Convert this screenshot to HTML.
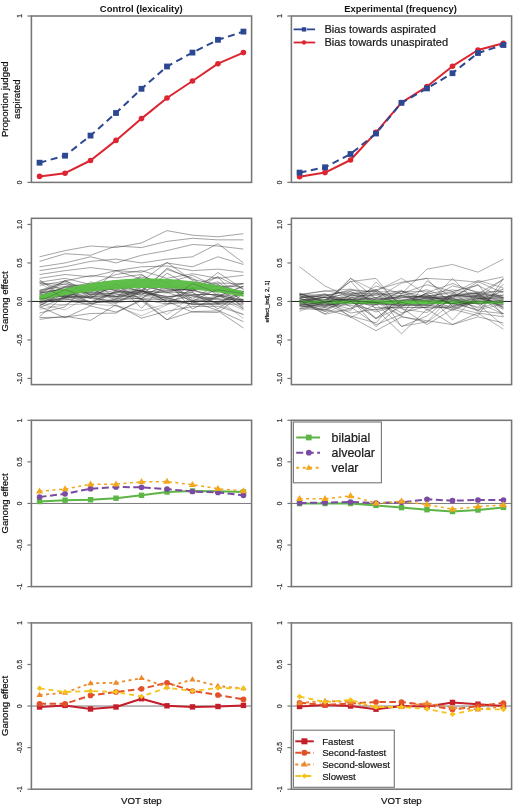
<!DOCTYPE html>
<html><head><meta charset="utf-8"><style>
html,body{margin:0;padding:0;background:#fff;}
svg{display:block;font-family:'Liberation Sans', Arial, sans-serif;}
</style></head><body>
<svg width="520" height="809" viewBox="0 0 520 809">
<rect width="520" height="809" fill="#fff"/>
<text x="141.30" y="11.80" font-size="9.5" text-anchor="middle" font-weight="bold" fill="#111">Control (lexicality)</text>
<text x="400.60" y="11.80" font-size="9.4" text-anchor="middle" font-weight="bold" fill="#111">Experimental (frequency)</text>
<text x="8.20" y="99.20" font-size="9.6" text-anchor="middle" font-weight="normal" fill="#111" stroke="#111" stroke-width="0.22" transform="rotate(-90 8.20 99.20)">Proportion judged</text>
<text x="20.20" y="99.20" font-size="9.6" text-anchor="middle" font-weight="normal" fill="#111" stroke="#111" stroke-width="0.22" transform="rotate(-90 20.20 99.20)">aspirated</text>
<text x="7.80" y="301.50" font-size="9.6" text-anchor="middle" font-weight="normal" fill="#111" stroke="#111" stroke-width="0.22" transform="rotate(-90 7.80 301.50)">Ganong effect</text>
<text x="268.60" y="301.50" font-size="5.9" text-anchor="middle" font-weight="normal" fill="#111" stroke="#111" stroke-width="0.22" transform="rotate(-90 268.60 301.50)">effect_ind[, 2, 1]</text>
<text x="7.80" y="503.50" font-size="9.6" text-anchor="middle" font-weight="normal" fill="#111" stroke="#111" stroke-width="0.22" transform="rotate(-90 7.80 503.50)">Ganong effect</text>
<text x="7.80" y="706.00" font-size="9.6" text-anchor="middle" font-weight="normal" fill="#111" stroke="#111" stroke-width="0.22" transform="rotate(-90 7.80 706.00)">Ganong effect</text>
<text x="141.30" y="804.10" font-size="9.7" text-anchor="middle" font-weight="normal" fill="#111" stroke="#111" stroke-width="0.22">VOT step</text>
<text x="401.30" y="804.10" font-size="9.7" text-anchor="middle" font-weight="normal" fill="#111" stroke="#111" stroke-width="0.22">VOT step</text>
<rect x="31.40" y="16.00" width="220.20" height="166.40" fill="none" stroke="#767676" stroke-width="1.55"/>
<line x1="27.40" y1="16.00" x2="31.40" y2="16.00" stroke="#767676" stroke-width="1.2"/>
<text x="22.20" y="16.00" transform="rotate(-90 22.20 16.00)" text-anchor="middle" font-size="6.6" fill="#333" stroke="#333" stroke-width="0.25">1</text>
<line x1="27.40" y1="182.40" x2="31.40" y2="182.40" stroke="#767676" stroke-width="1.2"/>
<text x="22.20" y="182.40" transform="rotate(-90 22.20 182.40)" text-anchor="middle" font-size="6.6" fill="#333" stroke="#333" stroke-width="0.25">0</text>
<rect x="291.40" y="16.00" width="220.20" height="166.40" fill="none" stroke="#767676" stroke-width="1.55"/>
<line x1="287.40" y1="16.00" x2="291.40" y2="16.00" stroke="#767676" stroke-width="1.2"/>
<text x="282.20" y="16.00" transform="rotate(-90 282.20 16.00)" text-anchor="middle" font-size="6.6" fill="#333" stroke="#333" stroke-width="0.25">1</text>
<line x1="287.40" y1="182.40" x2="291.40" y2="182.40" stroke="#767676" stroke-width="1.2"/>
<text x="282.20" y="182.40" transform="rotate(-90 282.20 182.40)" text-anchor="middle" font-size="6.6" fill="#333" stroke="#333" stroke-width="0.25">0</text>
<polyline points="39.56,162.70 65.04,155.70 90.53,135.60 116.01,113.00 141.50,88.80 166.99,66.50 192.47,52.60 217.96,39.80 243.44,31.60" fill="none" stroke="#2d4893" stroke-width="2.0" stroke-dasharray="7 4.5" stroke-linejoin="round" />
<rect x="36.65" y="159.79" width="5.82" height="5.82" fill="#2d4893"/>
<rect x="62.13" y="152.79" width="5.82" height="5.82" fill="#2d4893"/>
<rect x="87.62" y="132.69" width="5.82" height="5.82" fill="#2d4893"/>
<rect x="113.10" y="110.09" width="5.82" height="5.82" fill="#2d4893"/>
<rect x="138.59" y="85.89" width="5.82" height="5.82" fill="#2d4893"/>
<rect x="164.08" y="63.59" width="5.82" height="5.82" fill="#2d4893"/>
<rect x="189.56" y="49.69" width="5.82" height="5.82" fill="#2d4893"/>
<rect x="215.05" y="36.89" width="5.82" height="5.82" fill="#2d4893"/>
<rect x="240.53" y="28.69" width="5.82" height="5.82" fill="#2d4893"/>
<polyline points="39.56,176.40 65.04,173.20 90.53,160.50 116.01,140.40 141.50,118.60 166.99,98.00 192.47,81.00 217.96,63.70 243.44,52.60" fill="none" stroke="#dc2530" stroke-width="2.0" stroke-linejoin="round" />
<circle cx="39.56" cy="176.40" r="2.79" fill="#dc2530"/>
<circle cx="65.04" cy="173.20" r="2.79" fill="#dc2530"/>
<circle cx="90.53" cy="160.50" r="2.79" fill="#dc2530"/>
<circle cx="116.01" cy="140.40" r="2.79" fill="#dc2530"/>
<circle cx="141.50" cy="118.60" r="2.79" fill="#dc2530"/>
<circle cx="166.99" cy="98.00" r="2.79" fill="#dc2530"/>
<circle cx="192.47" cy="81.00" r="2.79" fill="#dc2530"/>
<circle cx="217.96" cy="63.70" r="2.79" fill="#dc2530"/>
<circle cx="243.44" cy="52.60" r="2.79" fill="#dc2530"/>
<polyline points="299.56,176.80 325.04,172.60 350.53,160.00 376.01,132.40 401.50,102.70 426.99,86.50 452.47,66.20 477.96,50.00 503.44,43.20" fill="none" stroke="#dc2530" stroke-width="2.0" stroke-linejoin="round" />
<circle cx="299.56" cy="176.80" r="2.79" fill="#dc2530"/>
<circle cx="325.04" cy="172.60" r="2.79" fill="#dc2530"/>
<circle cx="350.53" cy="160.00" r="2.79" fill="#dc2530"/>
<circle cx="376.01" cy="132.40" r="2.79" fill="#dc2530"/>
<circle cx="401.50" cy="102.70" r="2.79" fill="#dc2530"/>
<circle cx="426.99" cy="86.50" r="2.79" fill="#dc2530"/>
<circle cx="452.47" cy="66.20" r="2.79" fill="#dc2530"/>
<circle cx="477.96" cy="50.00" r="2.79" fill="#dc2530"/>
<circle cx="503.44" cy="43.20" r="2.79" fill="#dc2530"/>
<polyline points="299.56,172.60 325.04,167.30 350.53,154.00 376.01,133.50 401.50,102.80 426.99,88.40 452.47,73.20 477.96,53.00 503.44,45.00" fill="none" stroke="#2d4893" stroke-width="2.0" stroke-dasharray="7 4.5" stroke-linejoin="round" />
<rect x="296.65" y="169.69" width="5.82" height="5.82" fill="#2d4893"/>
<rect x="322.13" y="164.39" width="5.82" height="5.82" fill="#2d4893"/>
<rect x="347.62" y="151.09" width="5.82" height="5.82" fill="#2d4893"/>
<rect x="373.10" y="130.59" width="5.82" height="5.82" fill="#2d4893"/>
<rect x="398.59" y="99.89" width="5.82" height="5.82" fill="#2d4893"/>
<rect x="424.08" y="85.49" width="5.82" height="5.82" fill="#2d4893"/>
<rect x="449.56" y="70.29" width="5.82" height="5.82" fill="#2d4893"/>
<rect x="475.05" y="50.09" width="5.82" height="5.82" fill="#2d4893"/>
<rect x="500.53" y="42.09" width="5.82" height="5.82" fill="#2d4893"/>
<polyline points="293.60,29.40 315.20,29.40" fill="none" stroke="#2c4590" stroke-width="1.7" stroke-dasharray="8.5 4.5" stroke-linejoin="round" />
<rect x="301.84" y="27.24" width="4.32" height="4.32" fill="#2c4590"/>
<polyline points="293.60,42.50 315.20,42.50" fill="none" stroke="#d92431" stroke-width="1.8" stroke-linejoin="round" />
<circle cx="304.00" cy="42.50" r="2.16" fill="#d92431"/>
<text x="324.50" y="33.20" font-size="11.0" text-anchor="start" font-weight="normal" fill="#1a1a1a" stroke="#1a1a1a" stroke-width="0.22">Bias towards aspirated</text>
<text x="324.50" y="46.30" font-size="11.0" text-anchor="start" font-weight="normal" fill="#1a1a1a" stroke="#1a1a1a" stroke-width="0.22">Bias towards unaspirated</text>
<rect x="31.40" y="218.30" width="220.20" height="166.30" fill="none" stroke="#767676" stroke-width="1.55"/>
<line x1="27.40" y1="224.45" x2="31.40" y2="224.45" stroke="#767676" stroke-width="1.2"/>
<text x="22.20" y="224.45" transform="rotate(-90 22.20 224.45)" text-anchor="middle" font-size="6.6" fill="#333" stroke="#333" stroke-width="0.25">1.0</text>
<line x1="27.40" y1="262.95" x2="31.40" y2="262.95" stroke="#767676" stroke-width="1.2"/>
<text x="22.20" y="262.95" transform="rotate(-90 22.20 262.95)" text-anchor="middle" font-size="6.6" fill="#333" stroke="#333" stroke-width="0.25">0.5</text>
<line x1="27.40" y1="301.45" x2="31.40" y2="301.45" stroke="#767676" stroke-width="1.2"/>
<text x="22.20" y="301.45" transform="rotate(-90 22.20 301.45)" text-anchor="middle" font-size="6.6" fill="#333" stroke="#333" stroke-width="0.25">0.0</text>
<line x1="27.40" y1="339.95" x2="31.40" y2="339.95" stroke="#767676" stroke-width="1.2"/>
<text x="22.20" y="339.95" transform="rotate(-90 22.20 339.95)" text-anchor="middle" font-size="6.6" fill="#333" stroke="#333" stroke-width="0.25">-0.5</text>
<line x1="27.40" y1="378.45" x2="31.40" y2="378.45" stroke="#767676" stroke-width="1.2"/>
<text x="22.20" y="378.45" transform="rotate(-90 22.20 378.45)" text-anchor="middle" font-size="6.6" fill="#333" stroke="#333" stroke-width="0.25">-1.0</text>
<rect x="291.40" y="218.30" width="220.20" height="166.30" fill="none" stroke="#767676" stroke-width="1.55"/>
<line x1="287.40" y1="224.45" x2="291.40" y2="224.45" stroke="#767676" stroke-width="1.2"/>
<text x="282.20" y="224.45" transform="rotate(-90 282.20 224.45)" text-anchor="middle" font-size="6.6" fill="#333" stroke="#333" stroke-width="0.25">1.0</text>
<line x1="287.40" y1="262.95" x2="291.40" y2="262.95" stroke="#767676" stroke-width="1.2"/>
<text x="282.20" y="262.95" transform="rotate(-90 282.20 262.95)" text-anchor="middle" font-size="6.6" fill="#333" stroke="#333" stroke-width="0.25">0.5</text>
<line x1="287.40" y1="301.45" x2="291.40" y2="301.45" stroke="#767676" stroke-width="1.2"/>
<text x="282.20" y="301.45" transform="rotate(-90 282.20 301.45)" text-anchor="middle" font-size="6.6" fill="#333" stroke="#333" stroke-width="0.25">0.0</text>
<line x1="287.40" y1="339.95" x2="291.40" y2="339.95" stroke="#767676" stroke-width="1.2"/>
<text x="282.20" y="339.95" transform="rotate(-90 282.20 339.95)" text-anchor="middle" font-size="6.6" fill="#333" stroke="#333" stroke-width="0.25">-0.5</text>
<line x1="287.40" y1="378.45" x2="291.40" y2="378.45" stroke="#767676" stroke-width="1.2"/>
<text x="282.20" y="378.45" transform="rotate(-90 282.20 378.45)" text-anchor="middle" font-size="6.6" fill="#333" stroke="#333" stroke-width="0.25">-1.0</text>
<polyline points="39.56,256.79 65.04,250.63 90.53,246.01 116.01,247.55 141.50,242.93 166.99,230.61 192.47,235.23 217.96,236.77 243.44,233.69" fill="none" stroke="#3a3a3a" stroke-width="0.85" stroke-linejoin="round" stroke-opacity="0.55"/>
<polyline points="39.56,261.41 65.04,253.71 90.53,255.25 116.01,246.01 141.50,247.55 166.99,241.39 192.47,238.31 217.96,239.85 243.44,239.85" fill="none" stroke="#3a3a3a" stroke-width="0.85" stroke-linejoin="round" stroke-opacity="0.55"/>
<polyline points="39.56,266.80 65.04,262.95 90.53,256.79 116.01,262.95 141.50,255.25 166.99,250.63 192.47,244.47 217.96,246.01 243.44,249.09" fill="none" stroke="#3a3a3a" stroke-width="0.85" stroke-linejoin="round" stroke-opacity="0.55"/>
<polyline points="39.56,270.65 65.04,266.80 90.53,261.41 116.01,259.10 141.50,262.95 166.99,259.10 192.47,256.79 217.96,243.70 243.44,262.95" fill="none" stroke="#3a3a3a" stroke-width="0.85" stroke-linejoin="round" stroke-opacity="0.55"/>
<polyline points="39.56,278.35 65.04,274.50 90.53,276.81 116.01,270.65 141.50,272.19 166.99,262.95 192.47,266.80 217.96,256.79 243.44,264.49" fill="none" stroke="#3a3a3a" stroke-width="0.85" stroke-linejoin="round" stroke-opacity="0.55"/>
<polyline points="39.56,274.50 65.04,270.65 90.53,267.57 116.01,270.65 141.50,266.80 166.99,266.03 192.47,270.65 217.96,269.11 243.44,272.19" fill="none" stroke="#3a3a3a" stroke-width="0.85" stroke-linejoin="round" stroke-opacity="0.55"/>
<polyline points="39.56,282.20 65.04,278.35 90.53,284.51 116.01,274.50 141.50,270.65 166.99,278.35 192.47,273.73 217.96,278.35 243.44,275.27" fill="none" stroke="#3a3a3a" stroke-width="0.85" stroke-linejoin="round" stroke-opacity="0.55"/>
<polyline points="39.56,298.87 65.04,291.34 90.53,292.81 116.01,296.58 141.50,292.49 166.99,296.37 192.47,295.60 217.96,299.86 243.44,299.20" fill="none" stroke="#3a3a3a" stroke-width="0.85" stroke-linejoin="round" stroke-opacity="0.55"/>
<polyline points="39.56,290.14 65.04,286.46 90.53,283.49 116.01,296.72 141.50,296.22 166.99,290.51 192.47,288.88 217.96,285.89 243.44,291.77" fill="none" stroke="#3a3a3a" stroke-width="0.85" stroke-linejoin="round" stroke-opacity="0.55"/>
<polyline points="39.56,302.73 65.04,292.67 90.53,292.16 116.01,293.83 141.50,299.35 166.99,304.02 192.47,300.64 217.96,302.56 243.44,291.24" fill="none" stroke="#3a3a3a" stroke-width="0.85" stroke-linejoin="round" stroke-opacity="0.55"/>
<polyline points="39.56,298.56 65.04,301.12 90.53,303.57 116.01,299.84 141.50,287.46 166.99,301.60 192.47,294.77 217.96,294.36 243.44,308.88" fill="none" stroke="#3a3a3a" stroke-width="0.85" stroke-linejoin="round" stroke-opacity="0.55"/>
<polyline points="39.56,291.56 65.04,289.86 90.53,303.62 116.01,298.95 141.50,274.91 166.99,288.60 192.47,289.93 217.96,296.26 243.44,302.79" fill="none" stroke="#3a3a3a" stroke-width="0.85" stroke-linejoin="round" stroke-opacity="0.55"/>
<polyline points="39.56,302.41 65.04,298.29 90.53,305.60 116.01,290.70 141.50,298.48 166.99,297.56 192.47,304.26 217.96,304.19 243.44,304.04" fill="none" stroke="#3a3a3a" stroke-width="0.85" stroke-linejoin="round" stroke-opacity="0.55"/>
<polyline points="39.56,306.22 65.04,290.79 90.53,289.72 116.01,289.38 141.50,295.37 166.99,273.10 192.47,287.34 217.96,289.76 243.44,283.80" fill="none" stroke="#3a3a3a" stroke-width="0.85" stroke-linejoin="round" stroke-opacity="0.55"/>
<polyline points="39.56,303.12 65.04,297.57 90.53,294.38 116.01,285.13 141.50,291.35 166.99,292.18 192.47,292.78 217.96,308.92 243.44,291.32" fill="none" stroke="#3a3a3a" stroke-width="0.85" stroke-linejoin="round" stroke-opacity="0.55"/>
<polyline points="39.56,290.60 65.04,281.81 90.53,297.76 116.01,284.12 141.50,291.40 166.99,292.96 192.47,284.94 217.96,276.93 243.44,304.00" fill="none" stroke="#3a3a3a" stroke-width="0.85" stroke-linejoin="round" stroke-opacity="0.55"/>
<polyline points="39.56,295.65 65.04,296.74 90.53,288.47 116.01,300.24 141.50,298.20 166.99,288.18 192.47,295.72 217.96,302.92 243.44,291.59" fill="none" stroke="#3a3a3a" stroke-width="0.85" stroke-linejoin="round" stroke-opacity="0.55"/>
<polyline points="39.56,293.90 65.04,295.73 90.53,292.99 116.01,270.65 141.50,279.13 166.99,281.58 192.47,298.96 217.96,284.65 243.44,295.65" fill="none" stroke="#3a3a3a" stroke-width="0.85" stroke-linejoin="round" stroke-opacity="0.55"/>
<polyline points="39.56,301.37 65.04,297.61 90.53,296.59 116.01,294.97 141.50,291.34 166.99,296.72 192.47,294.61 217.96,294.46 243.44,301.19" fill="none" stroke="#3a3a3a" stroke-width="0.85" stroke-linejoin="round" stroke-opacity="0.55"/>
<polyline points="39.56,292.97 65.04,289.45 90.53,302.45 116.01,292.17 141.50,290.92 166.99,298.99 192.47,290.03 217.96,286.19 243.44,287.04" fill="none" stroke="#3a3a3a" stroke-width="0.85" stroke-linejoin="round" stroke-opacity="0.55"/>
<polyline points="39.56,293.63 65.04,287.89 90.53,287.04 116.01,290.43 141.50,282.34 166.99,285.06 192.47,291.47 217.96,272.54 243.44,289.15" fill="none" stroke="#3a3a3a" stroke-width="0.85" stroke-linejoin="round" stroke-opacity="0.55"/>
<polyline points="39.56,305.43 65.04,293.47 90.53,298.27 116.01,284.63 141.50,299.58 166.99,299.66 192.47,303.87 217.96,303.26 243.44,299.78" fill="none" stroke="#3a3a3a" stroke-width="0.85" stroke-linejoin="round" stroke-opacity="0.55"/>
<polyline points="39.56,307.61 65.04,297.61 90.53,288.06 116.01,282.96 141.50,308.30 166.99,282.36 192.47,301.16 217.96,288.65 243.44,307.00" fill="none" stroke="#3a3a3a" stroke-width="0.85" stroke-linejoin="round" stroke-opacity="0.55"/>
<polyline points="39.56,291.87 65.04,296.42 90.53,296.19 116.01,296.48 141.50,289.77 166.99,301.29 192.47,312.05 217.96,312.44 243.44,293.50" fill="none" stroke="#3a3a3a" stroke-width="0.85" stroke-linejoin="round" stroke-opacity="0.55"/>
<polyline points="39.56,285.43 65.04,281.07 90.53,275.52 116.01,277.85 141.50,274.51 166.99,289.64 192.47,290.19 217.96,276.70 243.44,289.44" fill="none" stroke="#3a3a3a" stroke-width="0.85" stroke-linejoin="round" stroke-opacity="0.55"/>
<polyline points="39.56,319.34 65.04,316.29 90.53,320.35 116.01,304.70 141.50,318.13 166.99,311.18 192.47,306.58 217.96,306.22 243.44,314.59" fill="none" stroke="#3a3a3a" stroke-width="0.85" stroke-linejoin="round" stroke-opacity="0.55"/>
<polyline points="39.56,313.03 65.04,306.85 90.53,281.76 116.01,291.09 141.50,294.12 166.99,287.29 192.47,287.94 217.96,281.71 243.44,301.08" fill="none" stroke="#3a3a3a" stroke-width="0.85" stroke-linejoin="round" stroke-opacity="0.55"/>
<polyline points="39.56,281.64 65.04,290.74 90.53,289.07 116.01,284.95 141.50,281.55 166.99,262.33 192.47,280.54 217.96,289.92 243.44,295.77" fill="none" stroke="#3a3a3a" stroke-width="0.85" stroke-linejoin="round" stroke-opacity="0.55"/>
<polyline points="39.56,296.33 65.04,286.84 90.53,290.12 116.01,283.91 141.50,277.17 166.99,282.62 192.47,275.32 217.96,287.42 243.44,283.39" fill="none" stroke="#3a3a3a" stroke-width="0.85" stroke-linejoin="round" stroke-opacity="0.55"/>
<polyline points="39.56,279.88 65.04,297.79 90.53,285.01 116.01,280.42 141.50,290.05 166.99,278.95 192.47,290.76 217.96,296.20 243.44,291.38" fill="none" stroke="#3a3a3a" stroke-width="0.85" stroke-linejoin="round" stroke-opacity="0.55"/>
<polyline points="39.56,293.51 65.04,280.59 90.53,291.68 116.01,287.66 141.50,284.11 166.99,292.49 192.47,300.28 217.96,296.20 243.44,286.07" fill="none" stroke="#3a3a3a" stroke-width="0.85" stroke-linejoin="round" stroke-opacity="0.55"/>
<polyline points="39.56,317.54 65.04,317.21 90.53,313.51 116.01,313.08 141.50,299.10 166.99,319.79 192.47,311.66 217.96,310.88 243.44,327.99" fill="none" stroke="#3a3a3a" stroke-width="0.85" stroke-linejoin="round" stroke-opacity="0.55"/>
<polyline points="39.56,306.61 65.04,317.81 90.53,305.99 116.01,312.05 141.50,300.78 166.99,319.80 192.47,302.03 217.96,310.33 243.44,321.65" fill="none" stroke="#3a3a3a" stroke-width="0.85" stroke-linejoin="round" stroke-opacity="0.55"/>
<polyline points="39.56,297.75 65.04,280.44 90.53,295.31 116.01,286.98 141.50,285.97 166.99,291.32 192.47,288.78 217.96,291.29 243.44,291.25" fill="none" stroke="#3a3a3a" stroke-width="0.85" stroke-linejoin="round" stroke-opacity="0.55"/>
<polyline points="39.56,316.52 65.04,295.30 90.53,289.20 116.01,298.24 141.50,298.51 166.99,282.04 192.47,309.05 217.96,296.16 243.44,286.31" fill="none" stroke="#3a3a3a" stroke-width="0.85" stroke-linejoin="round" stroke-opacity="0.55"/>
<polyline points="39.56,301.45 65.04,299.40 90.53,301.48 116.01,303.22 141.50,291.14 166.99,297.30 192.47,292.50 217.96,303.78 243.44,293.09" fill="none" stroke="#3a3a3a" stroke-width="0.85" stroke-linejoin="round" stroke-opacity="0.55"/>
<polyline points="39.56,291.34 65.04,283.77 90.53,287.43 116.01,292.88 141.50,292.28 166.99,268.09 192.47,279.45 217.96,284.36 243.44,308.81" fill="none" stroke="#3a3a3a" stroke-width="0.85" stroke-linejoin="round" stroke-opacity="0.55"/>
<polyline points="39.56,294.51 65.04,296.08 90.53,301.92 116.01,291.16 141.50,290.70 166.99,285.14 192.47,303.03 217.96,296.92 243.44,293.42" fill="none" stroke="#3a3a3a" stroke-width="0.85" stroke-linejoin="round" stroke-opacity="0.55"/>
<polyline points="39.56,297.02 65.04,287.06 90.53,285.18 116.01,287.52 141.50,290.76 166.99,269.49 192.47,278.12 217.96,295.65 243.44,299.69" fill="none" stroke="#3a3a3a" stroke-width="0.85" stroke-linejoin="round" stroke-opacity="0.55"/>
<polyline points="39.56,283.43 65.04,284.44 90.53,294.53 116.01,293.00 141.50,280.69 166.99,283.28 192.47,290.90 217.96,283.14 243.44,283.57" fill="none" stroke="#3a3a3a" stroke-width="0.85" stroke-linejoin="round" stroke-opacity="0.55"/>
<polyline points="39.56,298.28 65.04,295.90 90.53,297.93 116.01,301.01 141.50,293.02 166.99,298.22 192.47,304.69 217.96,304.04 243.44,300.79" fill="none" stroke="#3a3a3a" stroke-width="0.85" stroke-linejoin="round" stroke-opacity="0.55"/>
<line x1="31.40" y1="301.45" x2="251.60" y2="301.45" stroke="#222" stroke-width="1"/>
<polygon points="39.56,295.31 42.10,294.55 44.65,293.80 47.20,293.07 49.75,292.36 52.30,291.66 54.85,290.98 57.40,290.32 59.94,289.67 62.49,289.04 65.04,288.43 67.59,287.83 70.14,287.25 72.69,286.69 75.24,286.15 77.78,285.62 80.33,285.11 82.88,284.62 85.43,284.15 87.98,283.70 90.53,283.26 93.08,282.84 95.62,282.44 98.17,282.06 100.72,281.70 103.27,281.36 105.82,281.03 108.37,280.73 110.92,280.44 113.47,280.17 116.01,279.92 118.56,279.69 121.11,279.48 123.66,279.29 126.21,279.11 128.76,278.96 131.31,278.82 133.85,278.71 136.40,278.61 138.95,278.54 141.50,278.48 144.05,278.44 146.60,278.42 149.15,278.42 151.69,278.44 154.24,278.48 156.79,278.54 159.34,278.61 161.89,278.71 164.44,278.82 166.99,278.96 169.53,279.11 172.08,279.28 174.63,279.47 177.18,279.68 179.73,279.91 182.28,280.16 184.83,280.43 187.37,280.71 189.92,281.01 192.47,281.34 195.02,281.68 197.57,282.03 200.12,282.41 202.67,282.80 205.22,283.22 207.76,283.65 210.31,284.09 212.86,284.56 215.41,285.04 217.96,285.54 220.51,286.06 223.06,286.59 225.60,287.14 228.15,287.71 230.70,288.29 233.25,288.89 235.80,289.51 238.35,290.14 240.90,290.79 243.44,291.46 243.44,296.66 240.90,296.17 238.35,295.69 235.80,295.23 233.25,294.78 230.70,294.35 228.15,293.93 225.60,293.53 223.06,293.15 220.51,292.78 217.96,292.42 215.41,292.08 212.86,291.75 210.31,291.44 207.76,291.14 205.22,290.86 202.67,290.59 200.12,290.33 197.57,290.09 195.02,289.86 192.47,289.65 189.92,289.45 187.37,289.26 184.83,289.08 182.28,288.92 179.73,288.77 177.18,288.64 174.63,288.51 172.08,288.40 169.53,288.31 166.99,288.22 164.44,288.15 161.89,288.09 159.34,288.05 156.79,288.01 154.24,287.99 151.69,287.99 149.15,287.99 146.60,288.01 144.05,288.04 141.50,288.08 138.95,288.13 136.40,288.20 133.85,288.28 131.31,288.37 128.76,288.47 126.21,288.59 123.66,288.72 121.11,288.86 118.56,289.02 116.01,289.19 113.47,289.37 110.92,289.56 108.37,289.77 105.82,289.98 103.27,290.22 100.72,290.46 98.17,290.72 95.62,290.99 93.08,291.27 90.53,291.57 87.98,291.88 85.43,292.21 82.88,292.55 80.33,292.90 77.78,293.27 75.24,293.65 72.69,294.04 70.14,294.45 67.59,294.87 65.04,295.31 62.49,295.76 59.94,296.23 57.40,296.71 54.85,297.21 52.30,297.72 49.75,298.25 47.20,298.79 44.65,299.35 42.10,299.92 39.56,300.51" fill="#5bbd45" fill-opacity="0.96"/>
<polyline points="39.56,301.30 65.04,289.52 90.53,298.42 116.01,302.98 141.50,299.78 166.99,314.43 192.47,296.41 217.96,289.87 243.44,293.40" fill="none" stroke="#3a3a3a" stroke-width="0.85" stroke-linejoin="round" stroke-opacity="0.35"/>
<polyline points="39.56,304.21 65.04,309.87 90.53,295.25 116.01,305.93 141.50,315.76 166.99,304.97 192.47,288.13 217.96,304.10 243.44,314.41" fill="none" stroke="#3a3a3a" stroke-width="0.85" stroke-linejoin="round" stroke-opacity="0.35"/>
<polyline points="39.56,303.80 65.04,304.75 90.53,304.02 116.01,305.87 141.50,310.70 166.99,303.92 192.47,303.20 217.96,298.57 243.44,318.65" fill="none" stroke="#3a3a3a" stroke-width="0.85" stroke-linejoin="round" stroke-opacity="0.35"/>
<polyline points="39.56,309.30 65.04,304.78 90.53,294.12 116.01,296.62 141.50,294.11 166.99,301.96 192.47,283.36 217.96,293.35 243.44,304.81" fill="none" stroke="#3a3a3a" stroke-width="0.85" stroke-linejoin="round" stroke-opacity="0.35"/>
<polyline points="39.56,282.87 65.04,299.14 90.53,297.28 116.01,302.41 141.50,290.90 166.99,300.96 192.47,297.00 217.96,298.72 243.44,299.66" fill="none" stroke="#3a3a3a" stroke-width="0.85" stroke-linejoin="round" stroke-opacity="0.35"/>
<polyline points="39.56,298.53 65.04,297.81 90.53,297.16 116.01,298.14 141.50,291.22 166.99,303.40 192.47,301.17 217.96,298.10 243.44,310.21" fill="none" stroke="#3a3a3a" stroke-width="0.85" stroke-linejoin="round" stroke-opacity="0.35"/>
<line x1="291.40" y1="301.45" x2="511.60" y2="301.45" stroke="#222" stroke-width="1"/>
<polyline points="299.56,266.80 325.04,286.05 350.53,297.60 376.01,293.75 401.50,301.45 426.99,293.75 452.47,289.90 477.96,293.75 503.44,297.60" fill="none" stroke="#333" stroke-width="0.9" stroke-linejoin="round" stroke-opacity="0.46"/>
<polyline points="299.56,297.60 325.04,293.75 350.53,301.45 376.01,286.05 401.50,293.75 426.99,269.11 452.47,264.49 477.96,272.19 503.44,259.10" fill="none" stroke="#333" stroke-width="0.9" stroke-linejoin="round" stroke-opacity="0.46"/>
<polyline points="299.56,301.45 325.04,297.60 350.53,293.75 376.01,289.90 401.50,282.20 426.99,278.35 452.47,279.89 477.96,282.20 503.44,276.81" fill="none" stroke="#333" stroke-width="0.9" stroke-linejoin="round" stroke-opacity="0.46"/>
<polyline points="299.56,305.30 325.04,309.15 350.53,316.85 376.01,330.71 401.50,316.85 426.99,320.70 452.47,324.55 477.96,316.85 503.44,323.01" fill="none" stroke="#333" stroke-width="0.9" stroke-linejoin="round" stroke-opacity="0.46"/>
<polyline points="299.56,293.75 325.04,301.45 350.53,313.00 376.01,309.15 401.50,333.79 426.99,309.15 452.47,324.55 477.96,313.00 503.44,316.85" fill="none" stroke="#333" stroke-width="0.9" stroke-linejoin="round" stroke-opacity="0.46"/>
<polyline points="299.56,295.88 325.04,297.56 350.53,301.65 376.01,294.14 401.50,295.67 426.99,289.70 452.47,300.05 477.96,295.10 503.44,295.23" fill="none" stroke="#333" stroke-width="0.9" stroke-linejoin="round" stroke-opacity="0.46"/>
<polyline points="299.56,294.70 325.04,295.03 350.53,291.66 376.01,300.10 401.50,295.90 426.99,297.28 452.47,299.77 477.96,298.61 503.44,299.14" fill="none" stroke="#333" stroke-width="0.9" stroke-linejoin="round" stroke-opacity="0.46"/>
<polyline points="299.56,298.28 325.04,294.81 350.53,302.47 376.01,304.48 401.50,290.99 426.99,299.71 452.47,295.80 477.96,296.31 503.44,307.25" fill="none" stroke="#333" stroke-width="0.9" stroke-linejoin="round" stroke-opacity="0.46"/>
<polyline points="299.56,299.75 325.04,299.90 350.53,291.65 376.01,301.62 401.50,295.84 426.99,297.61 452.47,298.56 477.96,303.03 503.44,301.64" fill="none" stroke="#333" stroke-width="0.9" stroke-linejoin="round" stroke-opacity="0.46"/>
<polyline points="299.56,300.75 325.04,294.51 350.53,306.65 376.01,324.73 401.50,314.25 426.99,300.69 452.47,296.96 477.96,284.31 503.44,316.49" fill="none" stroke="#333" stroke-width="0.9" stroke-linejoin="round" stroke-opacity="0.46"/>
<polyline points="299.56,294.54 325.04,297.68 350.53,300.94 376.01,289.82 401.50,303.06 426.99,304.05 452.47,303.18 477.96,298.63 503.44,298.87" fill="none" stroke="#333" stroke-width="0.9" stroke-linejoin="round" stroke-opacity="0.46"/>
<polyline points="299.56,295.75 325.04,301.80 350.53,281.08 376.01,309.27 401.50,306.77 426.99,292.60 452.47,283.49 477.96,293.04 503.44,297.24" fill="none" stroke="#333" stroke-width="0.9" stroke-linejoin="round" stroke-opacity="0.46"/>
<polyline points="299.56,303.04 325.04,302.63 350.53,278.35 376.01,298.60 401.50,297.14 426.99,300.77 452.47,285.85 477.96,292.05 503.44,296.23" fill="none" stroke="#333" stroke-width="0.9" stroke-linejoin="round" stroke-opacity="0.46"/>
<polyline points="299.56,303.54 325.04,307.46 350.53,295.33 376.01,295.36 401.50,303.65 426.99,305.17 452.47,309.30 477.96,301.83 503.44,301.59" fill="none" stroke="#333" stroke-width="0.9" stroke-linejoin="round" stroke-opacity="0.46"/>
<polyline points="299.56,300.79 325.04,297.21 350.53,298.13 376.01,301.73 401.50,302.31 426.99,298.46 452.47,302.53 477.96,295.81 503.44,297.92" fill="none" stroke="#333" stroke-width="0.9" stroke-linejoin="round" stroke-opacity="0.46"/>
<polyline points="299.56,309.34 325.04,302.36 350.53,309.10 376.01,298.89 401.50,312.79 426.99,306.53 452.47,295.44 477.96,293.19 503.44,308.47" fill="none" stroke="#333" stroke-width="0.9" stroke-linejoin="round" stroke-opacity="0.46"/>
<polyline points="299.56,306.79 325.04,304.45 350.53,302.95 376.01,305.06 401.50,295.57 426.99,301.71 452.47,301.47 477.96,310.86 503.44,313.57" fill="none" stroke="#333" stroke-width="0.9" stroke-linejoin="round" stroke-opacity="0.46"/>
<polyline points="299.56,305.22 325.04,302.82 350.53,315.97 376.01,322.89 401.50,293.55 426.99,284.74 452.47,291.44 477.96,285.30 503.44,298.55" fill="none" stroke="#333" stroke-width="0.9" stroke-linejoin="round" stroke-opacity="0.46"/>
<polyline points="299.56,295.61 325.04,305.72 350.53,300.82 376.01,297.50 401.50,302.80 426.99,296.64 452.47,300.61 477.96,302.49 503.44,304.29" fill="none" stroke="#333" stroke-width="0.9" stroke-linejoin="round" stroke-opacity="0.46"/>
<polyline points="299.56,301.01 325.04,304.99 350.53,294.69 376.01,301.66 401.50,291.50 426.99,296.45 452.47,292.82 477.96,294.11 503.44,309.70" fill="none" stroke="#333" stroke-width="0.9" stroke-linejoin="round" stroke-opacity="0.46"/>
<polyline points="299.56,301.07 325.04,305.89 350.53,298.78 376.01,326.70 401.50,303.61 426.99,293.25 452.47,320.01 477.96,294.62 503.44,307.33" fill="none" stroke="#333" stroke-width="0.9" stroke-linejoin="round" stroke-opacity="0.46"/>
<polyline points="299.56,302.66 325.04,302.71 350.53,298.85 376.01,307.68 401.50,307.72 426.99,307.39 452.47,294.20 477.96,297.71 503.44,304.19" fill="none" stroke="#333" stroke-width="0.9" stroke-linejoin="round" stroke-opacity="0.46"/>
<polyline points="299.56,294.70 325.04,290.83 350.53,294.21 376.01,300.03 401.50,297.96 426.99,295.83 452.47,297.09 477.96,292.24 503.44,291.48" fill="none" stroke="#333" stroke-width="0.9" stroke-linejoin="round" stroke-opacity="0.46"/>
<polyline points="299.56,302.74 325.04,299.82 350.53,299.39 376.01,304.30 401.50,304.51 426.99,305.57 452.47,306.15 477.96,295.77 503.44,313.58" fill="none" stroke="#333" stroke-width="0.9" stroke-linejoin="round" stroke-opacity="0.46"/>
<polyline points="299.56,296.76 325.04,299.98 350.53,299.06 376.01,318.97 401.50,297.23 426.99,296.42 452.47,291.57 477.96,311.34 503.44,284.00" fill="none" stroke="#333" stroke-width="0.9" stroke-linejoin="round" stroke-opacity="0.46"/>
<polyline points="299.56,308.69 325.04,309.67 350.53,299.78 376.01,303.05 401.50,306.06 426.99,297.44 452.47,308.35 477.96,300.86 503.44,300.42" fill="none" stroke="#333" stroke-width="0.9" stroke-linejoin="round" stroke-opacity="0.46"/>
<polyline points="299.56,301.04 325.04,314.33 350.53,308.53 376.01,290.98 401.50,326.51 426.99,316.01 452.47,295.17 477.96,293.69 503.44,279.37" fill="none" stroke="#333" stroke-width="0.9" stroke-linejoin="round" stroke-opacity="0.46"/>
<polyline points="299.56,308.43 325.04,300.18 350.53,281.63 376.01,278.35 401.50,308.14 426.99,324.56 452.47,309.19 477.96,315.79 503.44,278.49" fill="none" stroke="#333" stroke-width="0.9" stroke-linejoin="round" stroke-opacity="0.46"/>
<polyline points="299.56,300.93 325.04,311.62 350.53,297.15 376.01,300.53 401.50,315.72 426.99,280.86 452.47,298.09 477.96,281.64 503.44,293.01" fill="none" stroke="#333" stroke-width="0.9" stroke-linejoin="round" stroke-opacity="0.46"/>
<polyline points="299.56,298.61 325.04,302.62 350.53,301.84 376.01,311.97 401.50,304.71 426.99,299.70 452.47,310.73 477.96,298.03 503.44,306.03" fill="none" stroke="#333" stroke-width="0.9" stroke-linejoin="round" stroke-opacity="0.46"/>
<polygon points="299.56,300.61 302.10,300.59 304.65,300.57 307.20,300.55 309.75,300.53 312.30,300.50 314.85,300.48 317.40,300.46 319.94,300.44 322.49,300.42 325.04,300.40 327.59,300.38 330.14,300.36 332.69,300.35 335.24,300.33 337.78,300.31 340.33,300.29 342.88,300.28 345.43,300.26 347.98,300.25 350.53,300.23 353.08,300.22 355.62,300.21 358.17,300.20 360.72,300.18 363.27,300.17 365.82,300.17 368.37,300.16 370.92,300.15 373.47,300.14 376.01,300.14 378.56,300.13 381.11,300.13 383.66,300.13 386.21,300.13 388.76,300.13 391.31,300.13 393.85,300.13 396.40,300.13 398.95,300.14 401.50,300.14 404.05,300.15 406.60,300.16 409.15,300.17 411.69,300.17 414.24,300.19 416.79,300.20 419.34,300.21 421.89,300.22 424.44,300.24 426.99,300.25 429.53,300.27 432.08,300.29 434.63,300.31 437.18,300.33 439.73,300.35 442.28,300.37 444.83,300.39 447.38,300.41 449.92,300.44 452.47,300.46 455.02,300.49 457.57,300.52 460.12,300.54 462.67,300.57 465.22,300.60 467.76,300.63 470.31,300.66 472.86,300.69 475.41,300.72 477.96,300.75 480.51,300.78 483.06,300.81 485.60,300.84 488.15,300.88 490.70,300.91 493.25,300.94 495.80,300.97 498.35,301.01 500.90,301.04 503.44,301.07 503.44,303.67 500.90,303.70 498.35,303.72 495.80,303.74 493.25,303.76 490.70,303.78 488.15,303.80 485.60,303.82 483.06,303.84 480.51,303.86 477.96,303.88 475.41,303.90 472.86,303.92 470.31,303.94 467.76,303.96 465.22,303.98 462.67,303.99 460.12,304.01 457.57,304.02 455.02,304.04 452.47,304.05 449.92,304.07 447.38,304.08 444.83,304.09 442.28,304.10 439.73,304.11 437.18,304.12 434.63,304.13 432.08,304.14 429.53,304.14 426.99,304.15 424.44,304.15 421.89,304.15 419.34,304.16 416.79,304.16 414.24,304.16 411.69,304.16 409.15,304.16 406.60,304.15 404.05,304.15 401.50,304.14 398.95,304.14 396.40,304.13 393.85,304.12 391.31,304.11 388.76,304.10 386.21,304.09 383.66,304.08 381.11,304.06 378.56,304.05 376.01,304.03 373.47,304.02 370.92,304.00 368.37,303.98 365.82,303.96 363.27,303.94 360.72,303.92 358.17,303.89 355.62,303.87 353.08,303.85 350.53,303.82 347.98,303.80 345.43,303.77 342.88,303.74 340.33,303.72 337.78,303.69 335.24,303.66 332.69,303.63 330.14,303.60 327.59,303.57 325.04,303.54 322.49,303.51 319.94,303.47 317.40,303.44 314.85,303.41 312.30,303.38 309.75,303.34 307.20,303.31 304.65,303.28 302.10,303.25 299.56,303.21" fill="#55c440" fill-opacity="0.95"/>
<polyline points="299.56,298.55 325.04,306.42 350.53,301.30 376.01,302.06 401.50,316.59 426.99,322.42 452.47,303.22 477.96,309.78 503.44,303.93" fill="none" stroke="#333" stroke-width="0.9" stroke-linejoin="round" stroke-opacity="0.4"/>
<polyline points="299.56,304.34 325.04,296.43 350.53,289.48 376.01,292.11 401.50,299.41 426.99,301.24 452.47,299.76 477.96,304.31 503.44,299.65" fill="none" stroke="#333" stroke-width="0.9" stroke-linejoin="round" stroke-opacity="0.4"/>
<polyline points="299.56,292.85 325.04,302.58 350.53,295.54 376.01,289.63 401.50,308.92 426.99,312.59 452.47,293.37 477.96,280.32 503.44,287.97" fill="none" stroke="#333" stroke-width="0.9" stroke-linejoin="round" stroke-opacity="0.4"/>
<polyline points="299.56,297.67 325.04,296.04 350.53,290.37 376.01,291.78 401.50,291.68 426.99,291.18 452.47,306.02 477.96,300.15 503.44,294.85" fill="none" stroke="#333" stroke-width="0.9" stroke-linejoin="round" stroke-opacity="0.4"/>
<polyline points="299.56,311.31 325.04,301.84 350.53,300.14 376.01,302.68 401.50,305.50 426.99,304.88 452.47,297.96 477.96,308.16 503.44,301.31" fill="none" stroke="#333" stroke-width="0.9" stroke-linejoin="round" stroke-opacity="0.4"/>
<polyline points="299.56,294.56 325.04,291.07 350.53,289.01 376.01,298.03 401.50,290.13 426.99,310.47 452.47,300.52 477.96,307.09 503.44,288.59" fill="none" stroke="#333" stroke-width="0.9" stroke-linejoin="round" stroke-opacity="0.4"/>
<polyline points="299.56,298.50 325.04,303.82 350.53,305.31 376.01,310.22 401.50,302.31 426.99,308.12 452.47,307.23 477.96,299.52 503.44,291.42" fill="none" stroke="#333" stroke-width="0.9" stroke-linejoin="round" stroke-opacity="0.4"/>
<polyline points="299.56,301.26 325.04,306.79 350.53,278.35 376.01,291.09 401.50,278.35 426.99,294.69 452.47,303.84 477.96,298.19 503.44,278.74" fill="none" stroke="#333" stroke-width="0.9" stroke-linejoin="round" stroke-opacity="0.4"/>
<polyline points="299.56,293.53 325.04,302.67 350.53,293.42 376.01,293.65 401.50,293.60 426.99,297.66 452.47,298.20 477.96,294.83 503.44,289.27" fill="none" stroke="#333" stroke-width="0.9" stroke-linejoin="round" stroke-opacity="0.4"/>
<polyline points="299.56,300.48 325.04,313.76 350.53,300.79 376.01,318.18 401.50,300.46 426.99,298.45 452.47,295.74 477.96,297.45 503.44,297.93" fill="none" stroke="#333" stroke-width="0.9" stroke-linejoin="round" stroke-opacity="0.4"/>
<polyline points="299.56,305.35 325.04,301.80 350.53,299.45 376.01,298.45 401.50,283.17 426.99,278.35 452.47,306.66 477.96,301.27 503.44,302.32" fill="none" stroke="#333" stroke-width="0.9" stroke-linejoin="round" stroke-opacity="0.4"/>
<polyline points="299.56,304.51 325.04,310.11 350.53,295.19 376.01,318.42 401.50,307.11 426.99,307.47 452.47,307.10 477.96,313.15 503.44,329.17" fill="none" stroke="#333" stroke-width="0.9" stroke-linejoin="round" stroke-opacity="0.4"/>
<polyline points="299.56,304.06 325.04,307.58 350.53,303.98 376.01,302.59 401.50,300.44 426.99,294.99 452.47,304.60 477.96,303.04 503.44,313.89" fill="none" stroke="#333" stroke-width="0.9" stroke-linejoin="round" stroke-opacity="0.4"/>
<polyline points="299.56,305.90 325.04,311.10 350.53,310.82 376.01,282.03 401.50,305.66 426.99,304.69 452.47,278.35 477.96,304.09 503.44,325.77" fill="none" stroke="#333" stroke-width="0.9" stroke-linejoin="round" stroke-opacity="0.4"/>
<polyline points="299.56,302.09 325.04,297.14 350.53,317.59 376.01,304.02 401.50,326.28 426.99,321.97 452.47,295.13 477.96,295.97 503.44,301.14" fill="none" stroke="#333" stroke-width="0.9" stroke-linejoin="round" stroke-opacity="0.4"/>
<rect x="31.40" y="420.30" width="220.20" height="166.30" fill="none" stroke="#767676" stroke-width="1.55"/>
<line x1="27.40" y1="420.30" x2="31.40" y2="420.30" stroke="#767676" stroke-width="1.2"/>
<text x="22.20" y="420.30" transform="rotate(-90 22.20 420.30)" text-anchor="middle" font-size="6.6" fill="#333" stroke="#333" stroke-width="0.25">1</text>
<line x1="27.40" y1="461.88" x2="31.40" y2="461.88" stroke="#767676" stroke-width="1.2"/>
<text x="22.20" y="461.88" transform="rotate(-90 22.20 461.88)" text-anchor="middle" font-size="6.6" fill="#333" stroke="#333" stroke-width="0.25">0.5</text>
<line x1="27.40" y1="503.45" x2="31.40" y2="503.45" stroke="#767676" stroke-width="1.2"/>
<text x="22.20" y="503.45" transform="rotate(-90 22.20 503.45)" text-anchor="middle" font-size="6.6" fill="#333" stroke="#333" stroke-width="0.25">0</text>
<line x1="27.40" y1="545.02" x2="31.40" y2="545.02" stroke="#767676" stroke-width="1.2"/>
<text x="22.20" y="545.02" transform="rotate(-90 22.20 545.02)" text-anchor="middle" font-size="6.6" fill="#333" stroke="#333" stroke-width="0.25">-0.5</text>
<line x1="27.40" y1="586.60" x2="31.40" y2="586.60" stroke="#767676" stroke-width="1.2"/>
<text x="22.20" y="586.60" transform="rotate(-90 22.20 586.60)" text-anchor="middle" font-size="6.6" fill="#333" stroke="#333" stroke-width="0.25">-1</text>
<line x1="31.40" y1="503.45" x2="251.60" y2="503.45" stroke="#777" stroke-width="1"/>
<rect x="291.40" y="420.30" width="220.20" height="166.30" fill="none" stroke="#767676" stroke-width="1.55"/>
<line x1="287.40" y1="420.30" x2="291.40" y2="420.30" stroke="#767676" stroke-width="1.2"/>
<text x="282.20" y="420.30" transform="rotate(-90 282.20 420.30)" text-anchor="middle" font-size="6.6" fill="#333" stroke="#333" stroke-width="0.25">1</text>
<line x1="287.40" y1="461.88" x2="291.40" y2="461.88" stroke="#767676" stroke-width="1.2"/>
<text x="282.20" y="461.88" transform="rotate(-90 282.20 461.88)" text-anchor="middle" font-size="6.6" fill="#333" stroke="#333" stroke-width="0.25">0.5</text>
<line x1="287.40" y1="503.45" x2="291.40" y2="503.45" stroke="#767676" stroke-width="1.2"/>
<text x="282.20" y="503.45" transform="rotate(-90 282.20 503.45)" text-anchor="middle" font-size="6.6" fill="#333" stroke="#333" stroke-width="0.25">0</text>
<line x1="287.40" y1="545.02" x2="291.40" y2="545.02" stroke="#767676" stroke-width="1.2"/>
<text x="282.20" y="545.02" transform="rotate(-90 282.20 545.02)" text-anchor="middle" font-size="6.6" fill="#333" stroke="#333" stroke-width="0.25">-0.5</text>
<line x1="287.40" y1="586.60" x2="291.40" y2="586.60" stroke="#767676" stroke-width="1.2"/>
<text x="282.20" y="586.60" transform="rotate(-90 282.20 586.60)" text-anchor="middle" font-size="6.6" fill="#333" stroke="#333" stroke-width="0.25">-1</text>
<line x1="291.40" y1="503.45" x2="511.60" y2="503.45" stroke="#777" stroke-width="1"/>
<polyline points="39.56,501.50 65.04,500.20 90.53,499.70 116.01,498.20 141.50,495.30 166.99,492.00 192.47,491.00 217.96,491.30 243.44,492.00" fill="none" stroke="#5cb545" stroke-width="2" stroke-linejoin="round" />
<rect x="36.86" y="498.80" width="5.40" height="5.40" fill="#5cb545"/>
<rect x="62.34" y="497.50" width="5.40" height="5.40" fill="#5cb545"/>
<rect x="87.83" y="497.00" width="5.40" height="5.40" fill="#5cb545"/>
<rect x="113.31" y="495.50" width="5.40" height="5.40" fill="#5cb545"/>
<rect x="138.80" y="492.60" width="5.40" height="5.40" fill="#5cb545"/>
<rect x="164.29" y="489.30" width="5.40" height="5.40" fill="#5cb545"/>
<rect x="189.77" y="488.30" width="5.40" height="5.40" fill="#5cb545"/>
<rect x="215.26" y="488.60" width="5.40" height="5.40" fill="#5cb545"/>
<rect x="240.74" y="489.30" width="5.40" height="5.40" fill="#5cb545"/>
<polyline points="39.56,497.00 65.04,493.80 90.53,488.70 116.01,487.00 141.50,487.30 166.99,489.10 192.47,491.50 217.96,492.40 243.44,495.30" fill="none" stroke="#7b4aa3" stroke-width="2" stroke-dasharray="7 3.5" stroke-linejoin="round" />
<circle cx="39.56" cy="497.00" r="2.85" fill="#7b4aa3"/>
<circle cx="65.04" cy="493.80" r="2.85" fill="#7b4aa3"/>
<circle cx="90.53" cy="488.70" r="2.85" fill="#7b4aa3"/>
<circle cx="116.01" cy="487.00" r="2.85" fill="#7b4aa3"/>
<circle cx="141.50" cy="487.30" r="2.85" fill="#7b4aa3"/>
<circle cx="166.99" cy="489.10" r="2.85" fill="#7b4aa3"/>
<circle cx="192.47" cy="491.50" r="2.85" fill="#7b4aa3"/>
<circle cx="217.96" cy="492.40" r="2.85" fill="#7b4aa3"/>
<circle cx="243.44" cy="495.30" r="2.85" fill="#7b4aa3"/>
<polyline points="39.56,491.30 65.04,489.00 90.53,484.20 116.01,484.20 141.50,481.80 166.99,481.60 192.47,484.70 217.96,488.70 243.44,491.00" fill="none" stroke="#f2a81d" stroke-width="1.5" stroke-dasharray="3 3.5" stroke-linejoin="round" />
<polygon points="39.56,487.52 43.15,493.57 35.96,493.57" fill="#f2a81d"/>
<polygon points="65.04,485.22 68.63,491.27 61.45,491.27" fill="#f2a81d"/>
<polygon points="90.53,480.42 94.12,486.47 86.94,486.47" fill="#f2a81d"/>
<polygon points="116.01,480.42 119.60,486.47 112.42,486.47" fill="#f2a81d"/>
<polygon points="141.50,478.02 145.09,484.07 137.91,484.07" fill="#f2a81d"/>
<polygon points="166.99,477.82 170.58,483.87 163.40,483.87" fill="#f2a81d"/>
<polygon points="192.47,480.92 196.06,486.97 188.88,486.97" fill="#f2a81d"/>
<polygon points="217.96,484.92 221.55,490.97 214.37,490.97" fill="#f2a81d"/>
<polygon points="243.44,487.22 247.04,493.27 239.85,493.27" fill="#f2a81d"/>
<polyline points="299.56,503.60 325.04,503.50 350.53,503.50 376.01,505.40 401.50,507.60 426.99,509.70 452.47,511.50 477.96,510.00 503.44,507.40" fill="none" stroke="#5cb545" stroke-width="2" stroke-linejoin="round" />
<rect x="296.86" y="500.90" width="5.40" height="5.40" fill="#5cb545"/>
<rect x="322.34" y="500.80" width="5.40" height="5.40" fill="#5cb545"/>
<rect x="347.83" y="500.80" width="5.40" height="5.40" fill="#5cb545"/>
<rect x="373.31" y="502.70" width="5.40" height="5.40" fill="#5cb545"/>
<rect x="398.80" y="504.90" width="5.40" height="5.40" fill="#5cb545"/>
<rect x="424.29" y="507.00" width="5.40" height="5.40" fill="#5cb545"/>
<rect x="449.77" y="508.80" width="5.40" height="5.40" fill="#5cb545"/>
<rect x="475.26" y="507.30" width="5.40" height="5.40" fill="#5cb545"/>
<rect x="500.74" y="504.70" width="5.40" height="5.40" fill="#5cb545"/>
<polyline points="299.56,503.00 325.04,502.60 350.53,502.00 376.01,503.00 401.50,502.30 426.99,499.30 452.47,500.70 477.96,500.00 503.44,500.00" fill="none" stroke="#7b4aa3" stroke-width="2" stroke-dasharray="7 3.5" stroke-linejoin="round" />
<circle cx="299.56" cy="503.00" r="2.85" fill="#7b4aa3"/>
<circle cx="325.04" cy="502.60" r="2.85" fill="#7b4aa3"/>
<circle cx="350.53" cy="502.00" r="2.85" fill="#7b4aa3"/>
<circle cx="376.01" cy="503.00" r="2.85" fill="#7b4aa3"/>
<circle cx="401.50" cy="502.30" r="2.85" fill="#7b4aa3"/>
<circle cx="426.99" cy="499.30" r="2.85" fill="#7b4aa3"/>
<circle cx="452.47" cy="500.70" r="2.85" fill="#7b4aa3"/>
<circle cx="477.96" cy="500.00" r="2.85" fill="#7b4aa3"/>
<circle cx="503.44" cy="500.00" r="2.85" fill="#7b4aa3"/>
<polyline points="299.56,498.80 325.04,498.80 350.53,495.90 376.01,503.20 401.50,501.20 426.99,504.60 452.47,509.20 477.96,506.50 503.44,505.00" fill="none" stroke="#f2a81d" stroke-width="1.5" stroke-dasharray="3 3.5" stroke-linejoin="round" />
<polygon points="299.56,495.02 303.15,501.07 295.96,501.07" fill="#f2a81d"/>
<polygon points="325.04,495.02 328.63,501.07 321.45,501.07" fill="#f2a81d"/>
<polygon points="350.53,492.12 354.12,498.17 346.94,498.17" fill="#f2a81d"/>
<polygon points="376.01,499.42 379.60,505.47 372.42,505.47" fill="#f2a81d"/>
<polygon points="401.50,497.42 405.09,503.47 397.91,503.47" fill="#f2a81d"/>
<polygon points="426.99,500.82 430.58,506.87 423.40,506.87" fill="#f2a81d"/>
<polygon points="452.47,505.42 456.06,511.47 448.88,511.47" fill="#f2a81d"/>
<polygon points="477.96,502.72 481.55,508.77 474.37,508.77" fill="#f2a81d"/>
<polygon points="503.44,501.22 507.04,507.27 499.85,507.27" fill="#f2a81d"/>
<rect x="293.4" y="422.0" width="88.0" height="60.8" fill="#fff" stroke="#767676" stroke-width="1.1"/>
<polyline points="296.20,437.50 320.00,437.50" fill="none" stroke="#5cb545" stroke-width="2" stroke-linejoin="round" />
<rect x="305.95" y="434.65" width="5.70" height="5.70" fill="#5cb545"/>
<text x="331.60" y="441.80" font-size="12.4" text-anchor="start" font-weight="normal" fill="#1a1a1a" stroke="#1a1a1a" stroke-width="0.22">bilabial</text>
<polyline points="296.20,452.70 320.00,452.70" fill="none" stroke="#7b4aa3" stroke-width="2" stroke-dasharray="7 3.5" stroke-linejoin="round" />
<circle cx="308.80" cy="452.70" r="2.85" fill="#7b4aa3"/>
<text x="331.60" y="457.00" font-size="12.4" text-anchor="start" font-weight="normal" fill="#1a1a1a" stroke="#1a1a1a" stroke-width="0.22">alveolar</text>
<polyline points="296.20,467.80 320.00,467.80" fill="none" stroke="#f2a81d" stroke-width="2" stroke-dasharray="3 3.5" stroke-linejoin="round" />
<polygon points="308.80,464.38 312.05,469.85 305.55,469.85" fill="#f2a81d"/>
<text x="331.60" y="472.10" font-size="12.4" text-anchor="start" font-weight="normal" fill="#1a1a1a" stroke="#1a1a1a" stroke-width="0.22">velar</text>
<rect x="31.40" y="622.90" width="220.20" height="166.30" fill="none" stroke="#767676" stroke-width="1.55"/>
<line x1="27.40" y1="622.90" x2="31.40" y2="622.90" stroke="#767676" stroke-width="1.2"/>
<text x="22.20" y="622.90" transform="rotate(-90 22.20 622.90)" text-anchor="middle" font-size="6.6" fill="#333" stroke="#333" stroke-width="0.25">1</text>
<line x1="27.40" y1="664.47" x2="31.40" y2="664.47" stroke="#767676" stroke-width="1.2"/>
<text x="22.20" y="664.47" transform="rotate(-90 22.20 664.47)" text-anchor="middle" font-size="6.6" fill="#333" stroke="#333" stroke-width="0.25">0.5</text>
<line x1="27.40" y1="706.05" x2="31.40" y2="706.05" stroke="#767676" stroke-width="1.2"/>
<text x="22.20" y="706.05" transform="rotate(-90 22.20 706.05)" text-anchor="middle" font-size="6.6" fill="#333" stroke="#333" stroke-width="0.25">0</text>
<line x1="27.40" y1="747.62" x2="31.40" y2="747.62" stroke="#767676" stroke-width="1.2"/>
<text x="22.20" y="747.62" transform="rotate(-90 22.20 747.62)" text-anchor="middle" font-size="6.6" fill="#333" stroke="#333" stroke-width="0.25">-0.5</text>
<line x1="27.40" y1="789.20" x2="31.40" y2="789.20" stroke="#767676" stroke-width="1.2"/>
<text x="22.20" y="789.20" transform="rotate(-90 22.20 789.20)" text-anchor="middle" font-size="6.6" fill="#333" stroke="#333" stroke-width="0.25">-1</text>
<line x1="31.40" y1="706.05" x2="251.60" y2="706.05" stroke="#777" stroke-width="1"/>
<rect x="291.40" y="622.90" width="220.20" height="166.30" fill="none" stroke="#767676" stroke-width="1.55"/>
<line x1="287.40" y1="622.90" x2="291.40" y2="622.90" stroke="#767676" stroke-width="1.2"/>
<text x="282.20" y="622.90" transform="rotate(-90 282.20 622.90)" text-anchor="middle" font-size="6.6" fill="#333" stroke="#333" stroke-width="0.25">1</text>
<line x1="287.40" y1="664.47" x2="291.40" y2="664.47" stroke="#767676" stroke-width="1.2"/>
<text x="282.20" y="664.47" transform="rotate(-90 282.20 664.47)" text-anchor="middle" font-size="6.6" fill="#333" stroke="#333" stroke-width="0.25">0.5</text>
<line x1="287.40" y1="706.05" x2="291.40" y2="706.05" stroke="#767676" stroke-width="1.2"/>
<text x="282.20" y="706.05" transform="rotate(-90 282.20 706.05)" text-anchor="middle" font-size="6.6" fill="#333" stroke="#333" stroke-width="0.25">0</text>
<line x1="287.40" y1="747.62" x2="291.40" y2="747.62" stroke="#767676" stroke-width="1.2"/>
<text x="282.20" y="747.62" transform="rotate(-90 282.20 747.62)" text-anchor="middle" font-size="6.6" fill="#333" stroke="#333" stroke-width="0.25">-0.5</text>
<line x1="287.40" y1="789.20" x2="291.40" y2="789.20" stroke="#767676" stroke-width="1.2"/>
<text x="282.20" y="789.20" transform="rotate(-90 282.20 789.20)" text-anchor="middle" font-size="6.6" fill="#333" stroke="#333" stroke-width="0.25">-1</text>
<line x1="291.40" y1="706.05" x2="511.60" y2="706.05" stroke="#777" stroke-width="1"/>
<polyline points="39.56,707.00 65.04,705.40 90.53,709.00 116.01,707.00 141.50,698.70 166.99,705.80 192.47,706.90 217.96,706.50 243.44,705.40" fill="none" stroke="#c41e2b" stroke-width="2" stroke-linejoin="round" />
<rect x="36.86" y="704.30" width="5.40" height="5.40" fill="#c41e2b"/>
<rect x="62.34" y="702.70" width="5.40" height="5.40" fill="#c41e2b"/>
<rect x="87.83" y="706.30" width="5.40" height="5.40" fill="#c41e2b"/>
<rect x="113.31" y="704.30" width="5.40" height="5.40" fill="#c41e2b"/>
<rect x="138.80" y="696.00" width="5.40" height="5.40" fill="#c41e2b"/>
<rect x="164.29" y="703.10" width="5.40" height="5.40" fill="#c41e2b"/>
<rect x="189.77" y="704.20" width="5.40" height="5.40" fill="#c41e2b"/>
<rect x="215.26" y="703.80" width="5.40" height="5.40" fill="#c41e2b"/>
<rect x="240.74" y="702.70" width="5.40" height="5.40" fill="#c41e2b"/>
<polyline points="39.56,703.80 65.04,703.80 90.53,695.40 116.01,692.00 141.50,688.80 166.99,682.80 192.47,691.00 217.96,695.00 243.44,699.40" fill="none" stroke="#e2502a" stroke-width="2" stroke-dasharray="6.5 3.5" stroke-linejoin="round" />
<circle cx="39.56" cy="703.80" r="2.85" fill="#e2502a"/>
<circle cx="65.04" cy="703.80" r="2.85" fill="#e2502a"/>
<circle cx="90.53" cy="695.40" r="2.85" fill="#e2502a"/>
<circle cx="116.01" cy="692.00" r="2.85" fill="#e2502a"/>
<circle cx="141.50" cy="688.80" r="2.85" fill="#e2502a"/>
<circle cx="166.99" cy="682.80" r="2.85" fill="#e2502a"/>
<circle cx="192.47" cy="691.00" r="2.85" fill="#e2502a"/>
<circle cx="217.96" cy="695.00" r="2.85" fill="#e2502a"/>
<circle cx="243.44" cy="699.40" r="2.85" fill="#e2502a"/>
<polyline points="39.56,695.00 65.04,692.70 90.53,683.20 116.01,682.80 141.50,678.10 166.99,687.00 192.47,679.50 217.96,686.10 243.44,688.30" fill="none" stroke="#ec8a2e" stroke-width="1.8" stroke-dasharray="3 3.5" stroke-linejoin="round" />
<polygon points="39.56,691.69 42.70,696.99 36.41,696.99" fill="#ec8a2e"/>
<polygon points="65.04,689.39 68.19,694.69 61.90,694.69" fill="#ec8a2e"/>
<polygon points="90.53,679.89 93.67,685.19 87.38,685.19" fill="#ec8a2e"/>
<polygon points="116.01,679.49 119.16,684.79 112.87,684.79" fill="#ec8a2e"/>
<polygon points="141.50,674.79 144.65,680.09 138.35,680.09" fill="#ec8a2e"/>
<polygon points="166.99,683.69 170.13,688.99 163.84,688.99" fill="#ec8a2e"/>
<polygon points="192.47,676.19 195.62,681.49 189.33,681.49" fill="#ec8a2e"/>
<polygon points="217.96,682.79 221.10,688.09 214.81,688.09" fill="#ec8a2e"/>
<polygon points="243.44,684.99 246.59,690.29 240.30,690.29" fill="#ec8a2e"/>
<polyline points="39.56,688.30 65.04,692.00 90.53,691.00 116.01,692.00 141.50,696.50 166.99,687.70 192.47,691.00 217.96,688.00 243.44,688.50" fill="none" stroke="#f4c41c" stroke-width="1.8" stroke-dasharray="5 4" stroke-linejoin="round" />
<polygon points="39.56,685.50 42.36,688.30 39.56,691.10 36.76,688.30" fill="#f4c41c"/>
<polygon points="65.04,689.20 67.84,692.00 65.04,694.80 62.24,692.00" fill="#f4c41c"/>
<polygon points="90.53,688.20 93.33,691.00 90.53,693.80 87.73,691.00" fill="#f4c41c"/>
<polygon points="116.01,689.20 118.81,692.00 116.01,694.80 113.21,692.00" fill="#f4c41c"/>
<polygon points="141.50,693.70 144.30,696.50 141.50,699.30 138.70,696.50" fill="#f4c41c"/>
<polygon points="166.99,684.90 169.79,687.70 166.99,690.50 164.19,687.70" fill="#f4c41c"/>
<polygon points="192.47,688.20 195.27,691.00 192.47,693.80 189.67,691.00" fill="#f4c41c"/>
<polygon points="217.96,685.20 220.76,688.00 217.96,690.80 215.16,688.00" fill="#f4c41c"/>
<polygon points="243.44,685.70 246.24,688.50 243.44,691.30 240.64,688.50" fill="#f4c41c"/>
<polyline points="299.56,706.50 325.04,705.00 350.53,706.00 376.01,709.20 401.50,706.00 426.99,706.50 452.47,702.40 477.96,704.20 503.44,706.00" fill="none" stroke="#c41e2b" stroke-width="2" stroke-linejoin="round" />
<rect x="296.86" y="703.80" width="5.40" height="5.40" fill="#c41e2b"/>
<rect x="322.34" y="702.30" width="5.40" height="5.40" fill="#c41e2b"/>
<rect x="347.83" y="703.30" width="5.40" height="5.40" fill="#c41e2b"/>
<rect x="373.31" y="706.50" width="5.40" height="5.40" fill="#c41e2b"/>
<rect x="398.80" y="703.30" width="5.40" height="5.40" fill="#c41e2b"/>
<rect x="424.29" y="703.80" width="5.40" height="5.40" fill="#c41e2b"/>
<rect x="449.77" y="699.70" width="5.40" height="5.40" fill="#c41e2b"/>
<rect x="475.26" y="701.50" width="5.40" height="5.40" fill="#c41e2b"/>
<rect x="500.74" y="703.30" width="5.40" height="5.40" fill="#c41e2b"/>
<polyline points="299.56,702.80 325.04,705.00 350.53,703.50 376.01,702.00 401.50,702.00 426.99,705.00 452.47,709.50 477.96,706.00 503.44,703.00" fill="none" stroke="#e2502a" stroke-width="2" stroke-dasharray="6.5 3.5" stroke-linejoin="round" />
<circle cx="299.56" cy="702.80" r="2.85" fill="#e2502a"/>
<circle cx="325.04" cy="705.00" r="2.85" fill="#e2502a"/>
<circle cx="350.53" cy="703.50" r="2.85" fill="#e2502a"/>
<circle cx="376.01" cy="702.00" r="2.85" fill="#e2502a"/>
<circle cx="401.50" cy="702.00" r="2.85" fill="#e2502a"/>
<circle cx="426.99" cy="705.00" r="2.85" fill="#e2502a"/>
<circle cx="452.47" cy="709.50" r="2.85" fill="#e2502a"/>
<circle cx="477.96" cy="706.00" r="2.85" fill="#e2502a"/>
<circle cx="503.44" cy="703.00" r="2.85" fill="#e2502a"/>
<polyline points="299.56,703.00 325.04,701.00 350.53,702.00 376.01,707.00 401.50,707.00 426.99,703.00 452.47,707.70 477.96,709.50 503.44,706.50" fill="none" stroke="#ec8a2e" stroke-width="1.8" stroke-dasharray="3 3.5" stroke-linejoin="round" />
<polygon points="299.56,699.69 302.70,704.99 296.41,704.99" fill="#ec8a2e"/>
<polygon points="325.04,697.69 328.19,702.99 321.90,702.99" fill="#ec8a2e"/>
<polygon points="350.53,698.69 353.67,703.99 347.38,703.99" fill="#ec8a2e"/>
<polygon points="376.01,703.69 379.16,708.99 372.87,708.99" fill="#ec8a2e"/>
<polygon points="401.50,703.69 404.65,708.99 398.35,708.99" fill="#ec8a2e"/>
<polygon points="426.99,699.69 430.13,704.99 423.84,704.99" fill="#ec8a2e"/>
<polygon points="452.47,704.39 455.62,709.69 449.33,709.69" fill="#ec8a2e"/>
<polygon points="477.96,706.19 481.10,711.49 474.81,711.49" fill="#ec8a2e"/>
<polygon points="503.44,703.19 506.59,708.49 500.30,708.49" fill="#ec8a2e"/>
<polyline points="299.56,696.60 325.04,702.00 350.53,700.00 376.01,707.00 401.50,707.00 426.99,709.00 452.47,714.20 477.96,709.00 503.44,709.50" fill="none" stroke="#f4c41c" stroke-width="1.8" stroke-dasharray="5 4" stroke-linejoin="round" />
<polygon points="299.56,693.80 302.36,696.60 299.56,699.40 296.76,696.60" fill="#f4c41c"/>
<polygon points="325.04,699.20 327.84,702.00 325.04,704.80 322.24,702.00" fill="#f4c41c"/>
<polygon points="350.53,697.20 353.33,700.00 350.53,702.80 347.73,700.00" fill="#f4c41c"/>
<polygon points="376.01,704.20 378.81,707.00 376.01,709.80 373.21,707.00" fill="#f4c41c"/>
<polygon points="401.50,704.20 404.30,707.00 401.50,709.80 398.70,707.00" fill="#f4c41c"/>
<polygon points="426.99,706.20 429.79,709.00 426.99,711.80 424.19,709.00" fill="#f4c41c"/>
<polygon points="452.47,711.40 455.27,714.20 452.47,717.00 449.67,714.20" fill="#f4c41c"/>
<polygon points="477.96,706.20 480.76,709.00 477.96,711.80 475.16,709.00" fill="#f4c41c"/>
<polygon points="503.44,706.70 506.24,709.50 503.44,712.30 500.64,709.50" fill="#f4c41c"/>
<rect x="293.4" y="730.2" width="100.9" height="57.1" fill="#fff" stroke="#767676" stroke-width="1.1"/>
<polyline points="295.30,741.30 313.80,741.30" fill="none" stroke="#c41e2b" stroke-width="2" stroke-linejoin="round" />
<rect x="301.40" y="738.30" width="6.00" height="6.00" fill="#c41e2b"/>
<text x="322.20" y="744.90" font-size="9.6" text-anchor="start" font-weight="normal" fill="#1a1a1a" stroke="#1a1a1a" stroke-width="0.22">Fastest</text>
<polyline points="295.30,752.80 313.80,752.80" fill="none" stroke="#e2502a" stroke-width="2" stroke-dasharray="6 3" stroke-linejoin="round" />
<circle cx="304.40" cy="752.80" r="3.00" fill="#e2502a"/>
<text x="322.20" y="756.40" font-size="9.6" text-anchor="start" font-weight="normal" fill="#1a1a1a" stroke="#1a1a1a" stroke-width="0.22">Second-fastest</text>
<polyline points="295.30,764.40 313.80,764.40" fill="none" stroke="#ec8a2e" stroke-width="2" stroke-dasharray="3 3" stroke-linejoin="round" />
<polygon points="304.40,760.80 307.82,766.56 300.98,766.56" fill="#ec8a2e"/>
<text x="322.20" y="768.00" font-size="9.6" text-anchor="start" font-weight="normal" fill="#1a1a1a" stroke="#1a1a1a" stroke-width="0.22">Second-slowest</text>
<polyline points="295.30,776.00 313.80,776.00" fill="none" stroke="#f4c41c" stroke-width="2" stroke-dasharray="6 4" stroke-linejoin="round" />
<polygon points="304.40,773.20 307.20,776.00 304.40,778.80 301.60,776.00" fill="#f4c41c"/>
<text x="322.20" y="779.60" font-size="9.6" text-anchor="start" font-weight="normal" fill="#1a1a1a" stroke="#1a1a1a" stroke-width="0.22">Slowest</text>
</svg>
</body></html>
